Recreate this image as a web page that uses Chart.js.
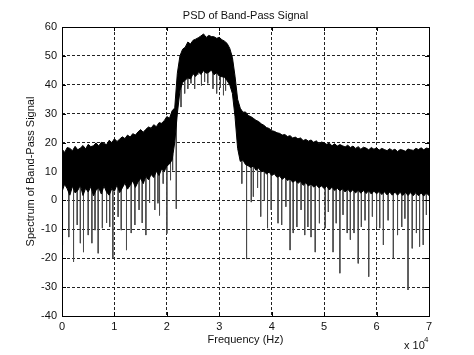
<!DOCTYPE html>
<html>
<head>
<meta charset="utf-8">
<script src="https://cdn.jsdelivr.net/npm/chart.js"></script>
<style>
  body { margin: 0; background: #fff; }
  canvas { display: block; }
</style>
</head>
<body>
<canvas id="psd" width="474" height="355"></canvas>
<script>
// frequency samples (x 10^4 Hz)
const freqs = [
  0, 0.05, 0.1, 0.15, 0.2, 0.25, 0.3, 0.35, 0.4, 0.45,
  0.5, 0.55, 0.6, 0.65, 0.7, 0.75, 0.8, 0.85, 0.9, 0.95,
  1.0, 1.05, 1.1, 1.15, 1.2, 1.25, 1.3, 1.35, 1.4, 1.45,
  1.5, 1.55, 1.6, 1.65, 1.7, 1.75, 1.8, 1.85, 1.9, 1.95,
  2.0, 2.05, 2.1, 2.15, 2.2, 2.25, 2.3, 2.35, 2.4, 2.45,
  2.5, 2.55, 2.6, 2.65, 2.7, 2.75, 2.8, 2.85, 2.9, 2.95,
  3.0, 3.05, 3.1, 3.15, 3.2, 3.25, 3.3, 3.35, 3.4, 3.45,
  3.5, 3.55, 3.6, 3.65, 3.7, 3.75, 3.8, 3.85, 3.9, 3.95,
  4.0, 4.05, 4.1, 4.15, 4.2, 4.25, 4.3, 4.35, 4.4, 4.45,
  4.5, 4.55, 4.6, 4.65, 4.7, 4.75, 4.8, 4.85, 4.9, 4.95,
  5.0, 5.05, 5.1, 5.15, 5.2, 5.25, 5.3, 5.35, 5.4, 5.45,
  5.5, 5.55, 5.6, 5.65, 5.7, 5.75, 5.8, 5.85, 5.9, 5.95,
  6.0, 6.05, 6.1, 6.15, 6.2, 6.25, 6.3, 6.35, 6.4, 6.45,
  6.5, 6.55, 6.6, 6.65, 6.7, 6.75, 6.8, 6.85, 6.9, 6.95,
  7.0
];

// upper edge of the spectrum trace
const psdTop = [
  17.8, 16.6, 18.3, 18.0, 17.2, 18.7, 17.5, 18.1, 19.0, 17.8,
  19.4, 18.6, 18.9, 19.9, 18.8, 20.1, 19.7, 19.3, 20.8, 20.0,
  21.3, 20.4, 21.2, 22.0, 21.4, 22.6, 21.9, 23.1, 22.6, 23.7,
  24.5, 23.6, 24.6, 25.4, 25.0, 26.2, 25.5, 26.9, 26.7, 27.6,
  29.0, 28.4, 31.0, 32.0, 44.0, 50.0, 52.3, 53.0, 54.8, 54.1,
  55.4, 55.8, 56.3, 56.9, 57.6, 56.4, 57.1, 56.7, 56.6, 56.1,
  56.4, 55.6, 55.1, 54.3, 52.6, 49.5, 43.0, 35.0, 31.9, 30.5,
  30.6, 29.4, 29.0, 28.4, 27.7, 27.3, 26.5, 26.0, 25.2, 24.9,
  24.1, 23.9, 23.4, 23.2, 22.6, 22.8, 22.1, 22.4, 21.6, 21.9,
  21.3, 21.6, 20.7, 21.1, 20.5, 20.9, 20.1, 20.6, 19.7, 20.2,
  19.9, 19.4, 19.8, 18.9, 19.6, 18.8, 19.3, 18.9, 18.5, 19.1,
  18.3, 18.8, 18.0, 18.6, 17.7, 18.4, 18.1, 17.5, 18.3, 17.7,
  18.2, 17.4, 18.0, 17.6, 17.2, 17.9, 17.3, 17.7, 16.9, 17.6,
  17.4, 17.0, 17.8, 17.5, 17.3, 18.0, 17.6, 18.2, 17.5, 18.1,
  17.9
];

// lower edge of the dense part of the trace
const psdLow = [
  3.0, 5.6, 4.0, 1.8, 4.9, 2.6, 3.4, 5.3, 1.7, 4.2,
  2.9, 4.8, 1.6, 3.5, 4.4, 2.2, 5.0, 2.9, 1.8, 4.1,
  3.2, 5.4, 2.7, 4.3, 6.0, 3.9, 5.2, 6.8, 4.5, 6.4,
  7.6, 5.8, 8.4, 7.1, 9.0, 7.9, 10.1, 8.6, 10.9, 10.0,
  11.9, 12.6, 14.0, 20.0, 30.0, 38.0, 40.8, 41.6, 42.4, 42.0,
  43.8, 42.9, 44.5, 43.6, 44.9, 44.0, 44.3, 45.1, 43.5, 44.2,
  43.0, 42.8, 42.6, 41.4, 40.0, 37.0, 29.0, 18.0, 13.5, 14.0,
  12.4, 12.0, 11.4, 11.9, 10.4, 11.2, 9.9, 10.3, 9.1, 9.8,
  8.6, 9.2, 8.0, 8.4, 7.3, 8.0, 6.9, 7.4, 6.3, 6.9,
  5.9, 6.6, 5.2, 6.1, 5.0, 5.7, 4.6, 5.3, 4.4, 5.0,
  4.1, 4.9, 3.6, 4.6, 3.4, 4.2, 3.3, 4.0, 2.9, 3.9,
  2.8, 3.7, 2.6, 3.5, 2.5, 3.4, 2.4, 3.3, 2.2, 3.2,
  2.3, 3.1, 2.0, 3.0, 1.9, 2.9, 1.8, 2.9, 1.8, 2.8,
  1.7, 2.8, 1.7, 2.7, 1.6, 2.7, 1.6, 2.6, 1.5, 2.6,
  1.6
];

// deep notches below the trace
const dipFreqs = [
  0.01, 0.13, 0.22, 0.29, 0.35, 0.41, 0.50, 0.57, 0.63, 0.69,
  0.77, 0.85, 0.91, 0.97, 1.07, 1.13, 1.23, 1.32, 1.39, 1.47,
  1.53, 1.60, 1.67, 1.77, 1.83, 1.86, 1.93, 2.00, 2.07, 2.11, 2.18,
  2.27, 2.34, 2.40, 2.46, 2.53, 2.59, 2.66, 2.72, 2.78, 2.88,
  2.95, 3.02, 3.08, 3.12, 3.20,
  3.39, 3.43, 3.52, 3.61, 3.65, 3.73, 3.79, 3.86, 3.92, 3.99,
  4.12, 4.19, 4.27, 4.35, 4.41, 4.48, 4.56, 4.63, 4.69, 4.75,
  4.83, 4.91, 5.02, 5.08, 5.17, 5.23, 5.30, 5.36, 5.44, 5.50,
  5.57, 5.65, 5.71, 5.78, 5.85, 5.92, 6.00, 6.06, 6.13, 6.22,
  6.32, 6.40, 6.48, 6.54, 6.60, 6.68, 6.76, 6.82, 6.89, 6.95
];
const dipLows = [
  -15.5, -12.7, -21.3, -8.5, -14.8, -17.9, -12, -14.8, -10.3, -18.3,
  -9.6, -7.8, -9.2, -20, -5.7, -10.3, -17.2, -11.3, -8.5, -3.3,
  -7.8, -12, -0.9, -3.3, -1, -5.2, 5.8, -11.5, 7, 10.4, -2.9,
  32.3, 37, 38.6, 40.5, 38.6, 43.5, 39.8, 41, 40.5, 38.6,
  37, 39, 36.4, 38, 40,
  22, 5.8, -20.3, -0.6, 1.3, 4.3, -5.6, 0, -9.6, -3.3,
  -7.9, -8.5, -2.2, -17.2, -11.3, -9.2, -3.3, -12, -9.2, -12.7,
  -17.9, -7.9, -9.6, -4, -17.9, -7.9, -25.2, -5, -11.3, -13.6,
  -11.3, -21.8, -9.2, -6.9, -26.4, -5.6, -9.2, -9.6, -15.4, -6.9,
  -20, -12, -9.2, -6.3, -31, -16.6, -11.3, -16, -15.4, -5
];

const xTicks = [0, 1, 2, 3, 4, 5, 6, 7];
const yTicks = [-40, -30, -20, -10, 0, 10, 20, 30, 40, 50, 60];

const topPts = freqs.map((f, i) => ({ x: f, y: psdTop[i] }));
const lowPts = freqs.map((f, i) => ({ x: f, y: psdLow[i] }));

// each notch: from inside the trace down to its minimum, then a gap
const nearestLow = (f) => {
  let best = 0;
  freqs.forEach((v, i) => { if (Math.abs(v - f) < Math.abs(freqs[best] - f)) best = i; });
  return psdLow[best];
};
const dipPts = [];
dipFreqs.forEach((f, i) => {
  dipPts.push({ x: f, y: nearestLow(f) + 2 });
  dipPts.push({ x: f, y: dipLows[i] });
  dipPts.push({ x: f, y: null });
});

const FONT = "'Liberation Sans', Arial, sans-serif";

const matlabFrame = {
  id: 'matlabFrame',
  afterDraw(chart) {
    const { ctx, chartArea: a, scales } = chart;
    ctx.save();
    ctx.strokeStyle = '#000';
    ctx.lineWidth = 1;
    ctx.setLineDash([]);
    ctx.strokeRect(Math.round(a.left) + 0.5, Math.round(a.top) + 0.5,
      Math.round(a.right - a.left), Math.round(a.bottom - a.top));

    // inward tick marks
    ctx.beginPath();
    xTicks.forEach(t => {
      const x = Math.round(scales.x.getPixelForValue(t)) + 0.5;
      ctx.moveTo(x, a.bottom); ctx.lineTo(x, a.bottom - 4);
      ctx.moveTo(x, a.top); ctx.lineTo(x, a.top + 4);
    });
    yTicks.forEach(t => {
      const y = Math.round(scales.y.getPixelForValue(t)) + 0.5;
      ctx.moveTo(a.left, y); ctx.lineTo(a.left + 4, y);
      ctx.moveTo(a.right, y); ctx.lineTo(a.right - 4, y);
    });
    ctx.stroke();

    ctx.fillStyle = '#111';
    ctx.font = '11px ' + FONT;
    ctx.textAlign = 'center';
    ctx.textBaseline = 'middle';
    const cx = (a.left + a.right) / 2;
    ctx.fillText('PSD of Band-Pass Signal', cx, 16);
    ctx.fillText('Frequency (Hz)', cx, 340);

    ctx.save();
    ctx.translate(31, (a.top + a.bottom) / 2);
    ctx.rotate(-Math.PI / 2);
    ctx.fillText('Spectrum of Band-Pass Signal', 0, 0);
    ctx.restore();

    ctx.textAlign = 'left';
    ctx.fillText('x 10', 404, 346);
    ctx.font = '8px ' + FONT;
    ctx.fillText('4', 424, 340);
    ctx.restore();
  }
};

new Chart(document.getElementById('psd'), {
  type: 'scatter',
  data: {
    datasets: [
      {
        label: 'top',
        data: topPts,
        showLine: true,
        borderColor: '#000',
        borderWidth: 1,
        pointRadius: 0,
        fill: '+1',
        backgroundColor: '#000',
        order: 1
      },
      {
        label: 'low',
        data: lowPts,
        showLine: true,
        borderColor: '#000',
        borderWidth: 1,
        pointRadius: 0,
        order: 1
      },
      {
        label: 'dips',
        data: dipPts,
        showLine: true,
        spanGaps: false,
        borderColor: '#4a4a4a',
        borderWidth: 1,
        pointRadius: 0,
        order: 2
      }
    ]
  },
  options: {
    responsive: false,
    animation: false,
    devicePixelRatio: 1,
    layout: { padding: { top: 27, right: 45, left: 0, bottom: 0 } },
    plugins: {
      legend: { display: false },
      tooltip: { enabled: false }
    },
    scales: {
      x: {
        type: 'linear',
        min: 0,
        max: 7,
        afterFit: (scale) => { scale.height = 39; },
        afterBuildTicks: (scale) => { scale.ticks = xTicks.map(v => ({ value: v })); },
        ticks: { color: '#111', font: { size: 11, family: FONT }, padding: 4, maxRotation: 0 },
        grid: { color: '#222', lineWidth: 1, drawTicks: false },
        border: { display: false, dash: [3, 2] }
      },
      y: {
        min: -40,
        max: 60,
        afterFit: (scale) => { scale.width = 62; },
        afterBuildTicks: (scale) => { scale.ticks = yTicks.map(v => ({ value: v })); },
        ticks: { color: '#111', font: { size: 11, family: FONT }, padding: 5 },
        grid: { color: '#222', lineWidth: 1, drawTicks: false },
        border: { display: false, dash: [3, 2] }
      }
    }
  },
  plugins: [matlabFrame]
});
</script>
</body>
</html>
